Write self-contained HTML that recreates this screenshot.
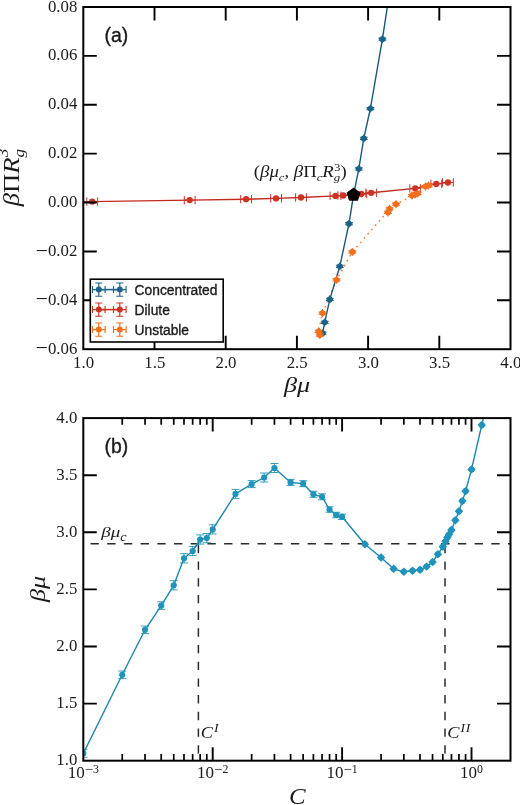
<!DOCTYPE html>
<html><head><meta charset="utf-8"><title>Figure</title>
<style>
html,body{margin:0;padding:0;background:#fff}
svg{display:block}
text{fill:#1a1a1a}
.ser{font-family:"Liberation Serif",serif}
.it{font-family:"Liberation Serif",serif;font-style:italic}
.up{font-style:normal}
.sans{font-family:"Liberation Sans",sans-serif;stroke:#1a1a1a;stroke-width:0.35px}
</style></head><body>
<svg width="520" height="805" viewBox="0 0 520 805">
<rect width="520" height="805" fill="#fff"/>
<defs><clipPath id="ca"><rect x="83.3" y="7" width="427.2" height="342.2"/></clipPath>
<clipPath id="cb"><rect x="83.3" y="418.1" width="427.2" height="342.6"/></clipPath></defs>
<g clip-path="url(#ca)">
<polyline points="84.3,201.8 92.2,201.6 189.7,200.1 246.1,199.2 276.1,198.4 301,197.5 335.5,195.9 343.3,195.5 361.3,194 371.2,192.8 415.2,188.4 436.3,183.9 447.9,182.5" fill="none" stroke="#c22a1c" stroke-width="1.4"/>
<path d="M86.8 201.6H97.6M86.8 197.4V205.8M97.6 197.4V205.8" stroke="#cb3323" stroke-width="1.0" fill="none"/>
<circle cx="92.2" cy="201.6" r="3.15" fill="#cb3323"/>
<path d="M184.3 200.1H195.1M184.3 195.9V204.3M195.1 195.9V204.3" stroke="#cb3323" stroke-width="1.0" fill="none"/>
<circle cx="189.7" cy="200.1" r="3.15" fill="#cb3323"/>
<path d="M240.7 199.2H251.5M240.7 195V203.4M251.5 195V203.4" stroke="#cb3323" stroke-width="1.0" fill="none"/>
<circle cx="246.1" cy="199.2" r="3.15" fill="#cb3323"/>
<path d="M270.7 198.4H281.5M270.7 194.2V202.6M281.5 194.2V202.6" stroke="#cb3323" stroke-width="1.0" fill="none"/>
<circle cx="276.1" cy="198.4" r="3.15" fill="#cb3323"/>
<path d="M295.6 197.5H306.4M295.6 193.3V201.7M306.4 193.3V201.7" stroke="#cb3323" stroke-width="1.0" fill="none"/>
<circle cx="301" cy="197.5" r="3.15" fill="#cb3323"/>
<path d="M330.1 195.9H340.9M330.1 191.7V200.1M340.9 191.7V200.1" stroke="#cb3323" stroke-width="1.0" fill="none"/>
<circle cx="335.5" cy="195.9" r="3.15" fill="#cb3323"/>
<path d="M337.9 195.5H348.7M337.9 191.3V199.7M348.7 191.3V199.7" stroke="#cb3323" stroke-width="1.0" fill="none"/>
<circle cx="343.3" cy="195.5" r="3.15" fill="#cb3323"/>
<path d="M355.9 194H366.7M355.9 189.8V198.2M366.7 189.8V198.2" stroke="#cb3323" stroke-width="1.0" fill="none"/>
<circle cx="361.3" cy="194" r="3.15" fill="#cb3323"/>
<path d="M365.8 192.8H376.6M365.8 188.6V197M376.6 188.6V197" stroke="#cb3323" stroke-width="1.0" fill="none"/>
<circle cx="371.2" cy="192.8" r="3.15" fill="#cb3323"/>
<path d="M409.8 188.4H420.6M409.8 184.2V192.6M420.6 184.2V192.6" stroke="#cb3323" stroke-width="1.0" fill="none"/>
<circle cx="415.2" cy="188.4" r="3.15" fill="#cb3323"/>
<path d="M430.9 183.9H441.7M430.9 179.7V188.1M441.7 179.7V188.1" stroke="#cb3323" stroke-width="1.0" fill="none"/>
<circle cx="436.3" cy="183.9" r="3.15" fill="#cb3323"/>
<path d="M442.5 182.5H453.3M442.5 178.3V186.7M453.3 178.3V186.7" stroke="#cb3323" stroke-width="1.0" fill="none"/>
<circle cx="447.9" cy="182.5" r="3.15" fill="#cb3323"/>
<polyline points="319.8,335 318.7,331.3 322.5,313.1 336.5,279.8 352.3,251.9 388,211 396,204.2 414.5,195 426.7,186 431,184.5" fill="none" stroke="#f2701d" stroke-width="1.6" stroke-dasharray="1.6 4.1" stroke-opacity="0.85"/>
<polyline points="388.4,0 382.4,39.2 370.4,108.5 363.8,138.4 358.8,168.8 353.7,193.8 349,223.7 339.8,266.3 329.8,299.4 324.7,322.3 322.6,333.2" fill="none" stroke="#175a7c" stroke-width="1.4"/>
<path d="M378.5 38.1H386.3M378.5 40.3H386.3M382.4 35.3V43.1" stroke="#1b6487" stroke-width="1.05" fill="none"/>
<path d="M378.85 39.2L382.4 35.65L385.95 39.2L382.4 42.75Z" fill="#1b6487"/>
<circle cx="382.4" cy="39.2" r="2.85" fill="#1b6487"/>
<path d="M366.5 107.4H374.3M366.5 109.6H374.3M370.4 104.6V112.4" stroke="#1b6487" stroke-width="1.05" fill="none"/>
<path d="M366.85 108.5L370.4 104.95L373.95 108.5L370.4 112.05Z" fill="#1b6487"/>
<circle cx="370.4" cy="108.5" r="2.85" fill="#1b6487"/>
<path d="M359.9 137.3H367.7M359.9 139.5H367.7M363.8 134.5V142.3" stroke="#1b6487" stroke-width="1.05" fill="none"/>
<path d="M360.25 138.4L363.8 134.85L367.35 138.4L363.8 141.95Z" fill="#1b6487"/>
<circle cx="363.8" cy="138.4" r="2.85" fill="#1b6487"/>
<path d="M354.9 167.7H362.7M354.9 169.9H362.7M358.8 164.9V172.7" stroke="#1b6487" stroke-width="1.05" fill="none"/>
<path d="M355.25 168.8L358.8 165.25L362.35 168.8L358.8 172.35Z" fill="#1b6487"/>
<circle cx="358.8" cy="168.8" r="2.85" fill="#1b6487"/>
<path d="M345.1 222.6H352.9M345.1 224.8H352.9M349 219.8V227.6" stroke="#1b6487" stroke-width="1.05" fill="none"/>
<path d="M345.45 223.7L349 220.15L352.55 223.7L349 227.25Z" fill="#1b6487"/>
<circle cx="349" cy="223.7" r="2.85" fill="#1b6487"/>
<path d="M335.9 265.2H343.7M335.9 267.4H343.7M339.8 262.4V270.2" stroke="#1b6487" stroke-width="1.05" fill="none"/>
<path d="M336.25 266.3L339.8 262.75L343.35 266.3L339.8 269.85Z" fill="#1b6487"/>
<circle cx="339.8" cy="266.3" r="2.85" fill="#1b6487"/>
<path d="M325.9 298.3H333.7M325.9 300.5H333.7M329.8 295.5V303.3" stroke="#1b6487" stroke-width="1.05" fill="none"/>
<path d="M326.25 299.4L329.8 295.85L333.35 299.4L329.8 302.95Z" fill="#1b6487"/>
<circle cx="329.8" cy="299.4" r="2.85" fill="#1b6487"/>
<path d="M320.8 321.2H328.6M320.8 323.4H328.6M324.7 318.4V326.2" stroke="#1b6487" stroke-width="1.05" fill="none"/>
<path d="M321.15 322.3L324.7 318.75L328.25 322.3L324.7 325.85Z" fill="#1b6487"/>
<circle cx="324.7" cy="322.3" r="2.85" fill="#1b6487"/>
<path d="M318.7 332.1H326.5M318.7 334.3H326.5M322.6 329.3V337.1" stroke="#1b6487" stroke-width="1.05" fill="none"/>
<path d="M319.05 333.2L322.6 329.65L326.15 333.2L322.6 336.75Z" fill="#1b6487"/>
<circle cx="322.6" cy="333.2" r="2.85" fill="#1b6487"/>
<path d="M315.8 333.9H323.8M315.8 336.1H323.8M319.8 331V339" stroke="#f2701d" stroke-width="1.05" fill="none"/>
<path d="M316.2 335L319.8 331.4L323.4 335L319.8 338.6Z" fill="#f2701d"/>
<circle cx="319.8" cy="335" r="2.9" fill="#f2701d"/>
<path d="M314.7 330.2H322.7M314.7 332.4H322.7M318.7 327.3V335.3" stroke="#f2701d" stroke-width="1.05" fill="none"/>
<path d="M315.1 331.3L318.7 327.7L322.3 331.3L318.7 334.9Z" fill="#f2701d"/>
<circle cx="318.7" cy="331.3" r="2.9" fill="#f2701d"/>
<path d="M318.5 312H326.5M318.5 314.2H326.5M322.5 309.1V317.1" stroke="#f2701d" stroke-width="1.05" fill="none"/>
<path d="M318.9 313.1L322.5 309.5L326.1 313.1L322.5 316.7Z" fill="#f2701d"/>
<circle cx="322.5" cy="313.1" r="2.9" fill="#f2701d"/>
<path d="M332.5 278.7H340.5M332.5 280.9H340.5M336.5 275.8V283.8" stroke="#f2701d" stroke-width="1.05" fill="none"/>
<path d="M332.9 279.8L336.5 276.2L340.1 279.8L336.5 283.4Z" fill="#f2701d"/>
<circle cx="336.5" cy="279.8" r="2.9" fill="#f2701d"/>
<path d="M348.3 250.8H356.3M348.3 253H356.3M352.3 247.9V255.9" stroke="#f2701d" stroke-width="1.05" fill="none"/>
<path d="M348.7 251.9L352.3 248.3L355.9 251.9L352.3 255.5Z" fill="#f2701d"/>
<circle cx="352.3" cy="251.9" r="2.9" fill="#f2701d"/>
<path d="M383.9 211.3H391.9M383.9 213.5H391.9M387.9 208.4V216.4" stroke="#f2701d" stroke-width="1.05" fill="none"/>
<path d="M384.3 212.4L387.9 208.8L391.5 212.4L387.9 216Z" fill="#f2701d"/>
<circle cx="387.9" cy="212.4" r="2.9" fill="#f2701d"/>
<path d="M385.6 207.7H393.6M385.6 209.9H393.6M389.6 204.8V212.8" stroke="#f2701d" stroke-width="1.05" fill="none"/>
<path d="M386 208.8L389.6 205.2L393.2 208.8L389.6 212.4Z" fill="#f2701d"/>
<circle cx="389.6" cy="208.8" r="2.9" fill="#f2701d"/>
<path d="M392 203.1H400M392 205.3H400M396 200.2V208.2" stroke="#f2701d" stroke-width="1.05" fill="none"/>
<path d="M392.4 204.2L396 200.6L399.6 204.2L396 207.8Z" fill="#f2701d"/>
<circle cx="396" cy="204.2" r="2.9" fill="#f2701d"/>
<path d="M408 194.4H416M408 196.6H416M412 191.5V199.5" stroke="#f2701d" stroke-width="1.05" fill="none"/>
<path d="M408.4 195.5L412 191.9L415.6 195.5L412 199.1Z" fill="#f2701d"/>
<circle cx="412" cy="195.5" r="2.9" fill="#f2701d"/>
<path d="M411 193.4H419M411 195.6H419M415 190.5V198.5" stroke="#f2701d" stroke-width="1.05" fill="none"/>
<path d="M411.4 194.5L415 190.9L418.6 194.5L415 198.1Z" fill="#f2701d"/>
<circle cx="415" cy="194.5" r="2.9" fill="#f2701d"/>
<path d="M413.5 192.4H421.5M413.5 194.6H421.5M417.5 189.5V197.5" stroke="#f2701d" stroke-width="1.05" fill="none"/>
<path d="M413.9 193.5L417.5 189.9L421.1 193.5L417.5 197.1Z" fill="#f2701d"/>
<circle cx="417.5" cy="193.5" r="2.9" fill="#f2701d"/>
<path d="M421.5 185.4H429.5M421.5 187.6H429.5M425.5 182.5V190.5" stroke="#f2701d" stroke-width="1.05" fill="none"/>
<path d="M421.9 186.5L425.5 182.9L429.1 186.5L425.5 190.1Z" fill="#f2701d"/>
<circle cx="425.5" cy="186.5" r="2.9" fill="#f2701d"/>
<path d="M424.5 184.4H432.5M424.5 186.6H432.5M428.5 181.5V189.5" stroke="#f2701d" stroke-width="1.05" fill="none"/>
<path d="M424.9 185.5L428.5 181.9L432.1 185.5L428.5 189.1Z" fill="#f2701d"/>
<circle cx="428.5" cy="185.5" r="2.9" fill="#f2701d"/>
<polygon points="353.6,187.6 360.54,192.64 357.89,200.81 349.31,200.81 346.66,192.64" fill="#000"/>
</g>
<rect x="83.3" y="7" width="427.2" height="342.2" fill="none" stroke="#000" stroke-width="2"/>
<path d="M154.5 7v13.5M154.5 349.2v-13.5M225.7 7v13.5M225.7 349.2v-13.5M296.9 7v13.5M296.9 349.2v-13.5M368.1 7v13.5M368.1 349.2v-13.5M439.3 7v13.5M439.3 349.2v-13.5M83.3 300.31h13.5M510.5 300.31h-13.5M83.3 251.43h13.5M510.5 251.43h-13.5M83.3 202.54h13.5M510.5 202.54h-13.5M83.3 153.66h13.5M510.5 153.66h-13.5M83.3 104.77h13.5M510.5 104.77h-13.5M83.3 55.89h13.5M510.5 55.89h-13.5" stroke="#000" stroke-width="1.9" fill="none"/>
<rect x="90.3" y="279.2" width="132.9" height="62.8" fill="#fff" stroke="#000" stroke-width="1.6"/>
<path d="M98.8 289.6H119.8" stroke="#1b6487" stroke-width="1.6"/>
<path d="M92.5 289.6H105.1M92.5 286.1V293.1M105.1 286.1V293.1M98.8 283V296.2M95.3 283H102.3M95.3 296.2H102.3" stroke="#1b6487" stroke-width="1.15" fill="none"/>
<circle cx="98.8" cy="289.6" r="3" fill="#1b6487"/>
<path d="M113.5 289.6H126.1M113.5 286.1V293.1M126.1 286.1V293.1M119.8 283V296.2M116.3 283H123.3M116.3 296.2H123.3" stroke="#1b6487" stroke-width="1.15" fill="none"/>
<circle cx="119.8" cy="289.6" r="3" fill="#1b6487"/>
<text x="134.6" y="294.6" class="sans" font-size="13.8">Concentrated</text>
<path d="M98.8 309.6H119.8" stroke="#cb3323" stroke-width="1.6"/>
<path d="M92.5 309.6H105.1M92.5 306.1V313.1M105.1 306.1V313.1M98.8 303V316.2M95.3 303H102.3M95.3 316.2H102.3" stroke="#cb3323" stroke-width="1.15" fill="none"/>
<circle cx="98.8" cy="309.6" r="3" fill="#cb3323"/>
<path d="M113.5 309.6H126.1M113.5 306.1V313.1M126.1 306.1V313.1M119.8 303V316.2M116.3 303H123.3M116.3 316.2H123.3" stroke="#cb3323" stroke-width="1.15" fill="none"/>
<circle cx="119.8" cy="309.6" r="3" fill="#cb3323"/>
<text x="134.6" y="314.6" class="sans" font-size="13.8">Dilute</text>
<path d="M92.5 329.6H105.1M92.5 326.1V333.1M105.1 326.1V333.1M98.8 323V336.2M95.3 323H102.3M95.3 336.2H102.3" stroke="#f2701d" stroke-width="1.15" fill="none"/>
<circle cx="98.8" cy="329.6" r="3" fill="#f2701d"/>
<path d="M113.5 329.6H126.1M113.5 326.1V333.1M126.1 326.1V333.1M119.8 323V336.2M116.3 323H123.3M116.3 336.2H123.3" stroke="#f2701d" stroke-width="1.15" fill="none"/>
<circle cx="119.8" cy="329.6" r="3" fill="#f2701d"/>
<text x="134.6" y="334.6" class="sans" font-size="13.8">Unstable</text>
<text transform="translate(77.3 11.5) scale(0.96 1)" class="ser" font-size="17.5" text-anchor="end">0.08</text>
<text transform="translate(77.3 60.39) scale(0.96 1)" class="ser" font-size="17.5" text-anchor="end">0.06</text>
<text transform="translate(77.3 109.27) scale(0.96 1)" class="ser" font-size="17.5" text-anchor="end">0.04</text>
<text transform="translate(77.3 158.16) scale(0.96 1)" class="ser" font-size="17.5" text-anchor="end">0.02</text>
<text transform="translate(77.3 207.04) scale(0.96 1)" class="ser" font-size="17.5" text-anchor="end">0.00</text>
<text transform="translate(77.3 255.93) scale(0.96 1)" class="ser" font-size="17.5" text-anchor="end"><tspan font-size="22.5" dy="1.6">−</tspan><tspan dy="-1.6">0</tspan>.02</text>
<text transform="translate(77.3 304.81) scale(0.96 1)" class="ser" font-size="17.5" text-anchor="end"><tspan font-size="22.5" dy="1.6">−</tspan><tspan dy="-1.6">0</tspan>.04</text>
<text transform="translate(77.3 353.7) scale(0.96 1)" class="ser" font-size="17.5" text-anchor="end"><tspan font-size="22.5" dy="1.6">−</tspan><tspan dy="-1.6">0</tspan>.06</text>
<text transform="translate(83.6 367.6) scale(0.96 1)" class="ser" font-size="17.5" text-anchor="middle">1.0</text>
<text transform="translate(154.8 367.6) scale(0.96 1)" class="ser" font-size="17.5" text-anchor="middle">1.5</text>
<text transform="translate(226 367.6) scale(0.96 1)" class="ser" font-size="17.5" text-anchor="middle">2.0</text>
<text transform="translate(297.2 367.6) scale(0.96 1)" class="ser" font-size="17.5" text-anchor="middle">2.5</text>
<text transform="translate(368.4 367.6) scale(0.96 1)" class="ser" font-size="17.5" text-anchor="middle">3.0</text>
<text transform="translate(439.6 367.6) scale(0.96 1)" class="ser" font-size="17.5" text-anchor="middle">3.5</text>
<text transform="translate(510.8 367.6) scale(0.96 1)" class="ser" font-size="17.5" text-anchor="middle">4.0</text>
<text transform="translate(297 392.4) scale(1.25 1)" class="it" font-size="21" text-anchor="middle">βμ</text>
<text transform="translate(18.8 177.5) rotate(-90) scale(1.18 1)" class="it" font-size="22.5" text-anchor="middle">β<tspan class="up">Π</tspan>R<tspan font-size="14.5" dy="5.5">g</tspan><tspan font-size="14.5" dy="-16.5" dx="-7">3</tspan></text>
<text x="116.4" y="41.6" class="sans" font-size="19.4" text-anchor="middle">(a)</text>
<text transform="translate(253.8 177.3) scale(1.19 1)" class="it" font-size="15.8"><tspan class="up">(</tspan>βμ<tspan font-size="10.5" dy="3.2">c</tspan><tspan dy="-3.2" class="up">, </tspan>β<tspan class="up">Π</tspan><tspan font-size="10.5" dy="3.2">c</tspan><tspan dy="-3.2">R</tspan><tspan font-size="10.8" dy="3.8">g</tspan><tspan font-size="10.8" dy="-10.6" dx="-5.2" class="up">3</tspan><tspan dy="6.8" class="up">)</tspan></text>
<g clip-path="url(#cb)">
<path d="M90.5 543.72H510.5" stroke="#2a2a2a" stroke-width="1.5" stroke-dasharray="8.35 8.35" fill="none"/>
<path d="M198.4 544.8V760.7" stroke="#2a2a2a" stroke-width="1.5" stroke-dasharray="8.35 8.35" fill="none"/>
<path d="M445 544.8V760.7" stroke="#2a2a2a" stroke-width="1.5" stroke-dasharray="8.35 8.35" fill="none"/>
<polyline points="83.3,753.5 122.25,674.8 145.04,629.8 161.21,605.6 173.75,585.3 183.99,558.3 192.66,551 200.16,539.5 206.78,538.1 212.7,529.4 235.49,493.9 251.65,484.1 264.19,477.5 274.44,468 290.61,482.4 303.15,483.7 313.39,494.3 322.06,496.8 329.56,509.5 336.18,515 342.1,516.8 364.89,544.3 381.05,557.5 393.59,568.8 403.84,571.8 412.5,570.8 420.01,569.8 426.63,566.6 432.55,562 437.9,554.3 442.79,546.8 445.53,541.2 447.29,537.5 448.99,534.5 451.46,530 455.33,520.2 458.96,511.2 462.37,501.1 465.58,491.1 471.5,469.4 481.75,425 484.2,414" fill="none" stroke="#1a86ab" stroke-width="1.4" stroke-linejoin="round"/>
<path d="M83.3 749.7V757.3M79.3 749.7H87.3M79.3 757.3H87.3" stroke="#1f93ba" stroke-width="0.9" fill="none"/>
<circle cx="83.3" cy="753.5" r="3.1" fill="#1f93ba"/>
<path d="M122.25 671V678.6M118.25 671H126.25M118.25 678.6H126.25" stroke="#1f93ba" stroke-width="0.9" fill="none"/>
<circle cx="122.25" cy="674.8" r="3.1" fill="#1f93ba"/>
<path d="M145.04 626V633.6M141.04 626H149.04M141.04 633.6H149.04" stroke="#1f93ba" stroke-width="0.9" fill="none"/>
<circle cx="145.04" cy="629.8" r="3.1" fill="#1f93ba"/>
<path d="M161.21 601.8V609.4M157.21 601.8H165.21M157.21 609.4H165.21" stroke="#1f93ba" stroke-width="0.9" fill="none"/>
<circle cx="161.21" cy="605.6" r="3.1" fill="#1f93ba"/>
<path d="M173.75 580.7V589.9M169.75 580.7H177.75M169.75 589.9H177.75" stroke="#1f93ba" stroke-width="0.9" fill="none"/>
<circle cx="173.75" cy="585.3" r="3.1" fill="#1f93ba"/>
<path d="M183.99 553.7V562.9M179.99 553.7H187.99M179.99 562.9H187.99" stroke="#1f93ba" stroke-width="0.9" fill="none"/>
<circle cx="183.99" cy="558.3" r="3.1" fill="#1f93ba"/>
<path d="M192.66 546.4V555.6M188.66 546.4H196.66M188.66 555.6H196.66" stroke="#1f93ba" stroke-width="0.9" fill="none"/>
<circle cx="192.66" cy="551" r="3.1" fill="#1f93ba"/>
<path d="M200.16 534.9V544.1M196.16 534.9H204.16M196.16 544.1H204.16" stroke="#1f93ba" stroke-width="0.9" fill="none"/>
<circle cx="200.16" cy="539.5" r="3.1" fill="#1f93ba"/>
<path d="M206.78 533.5V542.7M202.78 533.5H210.78M202.78 542.7H210.78" stroke="#1f93ba" stroke-width="0.9" fill="none"/>
<circle cx="206.78" cy="538.1" r="3.1" fill="#1f93ba"/>
<path d="M212.7 524.8V534M208.7 524.8H216.7M208.7 534H216.7" stroke="#1f93ba" stroke-width="0.9" fill="none"/>
<circle cx="212.7" cy="529.4" r="3.1" fill="#1f93ba"/>
<path d="M235.49 489.4V498.4M231.49 489.4H239.49M231.49 498.4H239.49" stroke="#1f93ba" stroke-width="0.9" fill="none"/>
<circle cx="235.49" cy="493.9" r="3.1" fill="#1f93ba"/>
<path d="M251.65 480.6V487.6M247.65 480.6H255.65M247.65 487.6H255.65" stroke="#1f93ba" stroke-width="0.9" fill="none"/>
<circle cx="251.65" cy="484.1" r="3.1" fill="#1f93ba"/>
<path d="M264.19 473V482M260.19 473H268.19M260.19 482H268.19" stroke="#1f93ba" stroke-width="0.9" fill="none"/>
<circle cx="264.19" cy="477.5" r="3.1" fill="#1f93ba"/>
<path d="M274.44 463.5V472.5M270.44 463.5H278.44M270.44 472.5H278.44" stroke="#1f93ba" stroke-width="0.9" fill="none"/>
<circle cx="274.44" cy="468" r="3.1" fill="#1f93ba"/>
<path d="M290.61 479.4V485.4M286.61 479.4H294.61M286.61 485.4H294.61" stroke="#1f93ba" stroke-width="0.9" fill="none"/>
<circle cx="290.61" cy="482.4" r="3.1" fill="#1f93ba"/>
<path d="M303.15 480.7V486.7M299.15 480.7H307.15M299.15 486.7H307.15" stroke="#1f93ba" stroke-width="0.9" fill="none"/>
<circle cx="303.15" cy="483.7" r="3.1" fill="#1f93ba"/>
<path d="M313.39 491.3V497.3M309.39 491.3H317.39M309.39 497.3H317.39" stroke="#1f93ba" stroke-width="0.9" fill="none"/>
<circle cx="313.39" cy="494.3" r="3.1" fill="#1f93ba"/>
<path d="M322.06 493.8V499.8M318.06 493.8H326.06M318.06 499.8H326.06" stroke="#1f93ba" stroke-width="0.9" fill="none"/>
<circle cx="322.06" cy="496.8" r="3.1" fill="#1f93ba"/>
<path d="M329.56 506.8V512.2M325.56 506.8H333.56M325.56 512.2H333.56" stroke="#1f93ba" stroke-width="0.9" fill="none"/>
<circle cx="329.56" cy="509.5" r="3.1" fill="#1f93ba"/>
<path d="M336.18 512.3V517.7M332.18 512.3H340.18M332.18 517.7H340.18" stroke="#1f93ba" stroke-width="0.9" fill="none"/>
<circle cx="336.18" cy="515" r="3.1" fill="#1f93ba"/>
<path d="M342.1 514.1V519.5M338.1 514.1H346.1M338.1 519.5H346.1" stroke="#1f93ba" stroke-width="0.9" fill="none"/>
<circle cx="342.1" cy="516.8" r="3.1" fill="#1f93ba"/>
<path d="M360.69 544.3L364.89 540.1L369.09 544.3L364.89 548.5Z" fill="#1f93ba"/>
<circle cx="364.89" cy="544.3" r="3.0" fill="#1f93ba"/>
<path d="M376.85 557.5L381.05 553.3L385.25 557.5L381.05 561.7Z" fill="#1f93ba"/>
<circle cx="381.05" cy="557.5" r="3.0" fill="#1f93ba"/>
<path d="M389.39 568.8L393.59 564.6L397.79 568.8L393.59 573Z" fill="#1f93ba"/>
<circle cx="393.59" cy="568.8" r="3.0" fill="#1f93ba"/>
<path d="M399.64 571.8L403.84 567.6L408.04 571.8L403.84 576Z" fill="#1f93ba"/>
<circle cx="403.84" cy="571.8" r="3.0" fill="#1f93ba"/>
<path d="M408.3 570.8L412.5 566.6L416.7 570.8L412.5 575Z" fill="#1f93ba"/>
<circle cx="412.5" cy="570.8" r="3.0" fill="#1f93ba"/>
<path d="M415.81 569.8L420.01 565.6L424.21 569.8L420.01 574Z" fill="#1f93ba"/>
<circle cx="420.01" cy="569.8" r="3.0" fill="#1f93ba"/>
<path d="M422.43 566.6L426.63 562.4L430.83 566.6L426.63 570.8Z" fill="#1f93ba"/>
<circle cx="426.63" cy="566.6" r="3.0" fill="#1f93ba"/>
<path d="M428.35 562L432.55 557.8L436.75 562L432.55 566.2Z" fill="#1f93ba"/>
<circle cx="432.55" cy="562" r="3.0" fill="#1f93ba"/>
<path d="M433.7 554.3L437.9 550.1L442.1 554.3L437.9 558.5Z" fill="#1f93ba"/>
<circle cx="437.9" cy="554.3" r="3.0" fill="#1f93ba"/>
<path d="M438.59 546.8L442.79 542.6L446.99 546.8L442.79 551Z" fill="#1f93ba"/>
<circle cx="442.79" cy="546.8" r="3.0" fill="#1f93ba"/>
<path d="M441.33 541.2L445.53 537L449.73 541.2L445.53 545.4Z" fill="#1f93ba"/>
<circle cx="445.53" cy="541.2" r="3.0" fill="#1f93ba"/>
<path d="M443.09 537.5L447.29 533.3L451.49 537.5L447.29 541.7Z" fill="#1f93ba"/>
<circle cx="447.29" cy="537.5" r="3.0" fill="#1f93ba"/>
<path d="M444.79 534.5L448.99 530.3L453.19 534.5L448.99 538.7Z" fill="#1f93ba"/>
<circle cx="448.99" cy="534.5" r="3.0" fill="#1f93ba"/>
<path d="M447.26 530L451.46 525.8L455.66 530L451.46 534.2Z" fill="#1f93ba"/>
<circle cx="451.46" cy="530" r="3.0" fill="#1f93ba"/>
<path d="M451.13 520.2L455.33 516L459.53 520.2L455.33 524.4Z" fill="#1f93ba"/>
<circle cx="455.33" cy="520.2" r="3.0" fill="#1f93ba"/>
<path d="M454.76 511.2L458.96 507L463.16 511.2L458.96 515.4Z" fill="#1f93ba"/>
<circle cx="458.96" cy="511.2" r="3.0" fill="#1f93ba"/>
<path d="M458.17 501.1L462.37 496.9L466.57 501.1L462.37 505.3Z" fill="#1f93ba"/>
<circle cx="462.37" cy="501.1" r="3.0" fill="#1f93ba"/>
<path d="M461.38 491.1L465.58 486.9L469.78 491.1L465.58 495.3Z" fill="#1f93ba"/>
<circle cx="465.58" cy="491.1" r="3.0" fill="#1f93ba"/>
<path d="M467.3 469.4L471.5 465.2L475.7 469.4L471.5 473.6Z" fill="#1f93ba"/>
<circle cx="471.5" cy="469.4" r="3.0" fill="#1f93ba"/>
<path d="M477.55 425L481.75 420.8L485.95 425L481.75 429.2Z" fill="#1f93ba"/>
<circle cx="481.75" cy="425" r="3.0" fill="#1f93ba"/>
</g>
<rect x="83.3" y="418.1" width="427.2" height="342.6" fill="none" stroke="#000" stroke-width="2"/>
<path d="M212.7 418.1v13.5M212.7 760.7v-13.5M342.1 418.1v13.5M342.1 760.7v-13.5M471.5 418.1v13.5M471.5 760.7v-13.5M83.3 703.6h13.5M510.5 703.6h-13.5M83.3 646.5h13.5M510.5 646.5h-13.5M83.3 589.4h13.5M510.5 589.4h-13.5M83.3 532.3h13.5M510.5 532.3h-13.5M83.3 475.2h13.5M510.5 475.2h-13.5" stroke="#000" stroke-width="1.9" fill="none"/>
<path d="M122.25 418.1v6.6M122.25 760.7v-6.6M145.04 418.1v6.6M145.04 760.7v-6.6M161.21 418.1v6.6M161.21 760.7v-6.6M173.75 418.1v6.6M173.75 760.7v-6.6M183.99 418.1v6.6M183.99 760.7v-6.6M192.66 418.1v6.6M192.66 760.7v-6.6M200.16 418.1v6.6M200.16 760.7v-6.6M206.78 418.1v6.6M206.78 760.7v-6.6M251.65 418.1v6.6M251.65 760.7v-6.6M274.44 418.1v6.6M274.44 760.7v-6.6M290.61 418.1v6.6M290.61 760.7v-6.6M303.15 418.1v6.6M303.15 760.7v-6.6M313.39 418.1v6.6M313.39 760.7v-6.6M322.06 418.1v6.6M322.06 760.7v-6.6M329.56 418.1v6.6M329.56 760.7v-6.6M336.18 418.1v6.6M336.18 760.7v-6.6M381.05 418.1v6.6M381.05 760.7v-6.6M403.84 418.1v6.6M403.84 760.7v-6.6M420.01 418.1v6.6M420.01 760.7v-6.6M432.55 418.1v6.6M432.55 760.7v-6.6M442.79 418.1v6.6M442.79 760.7v-6.6M451.46 418.1v6.6M451.46 760.7v-6.6M458.96 418.1v6.6M458.96 760.7v-6.6M465.58 418.1v6.6M465.58 760.7v-6.6" stroke="#000" stroke-width="1.7" fill="none"/>
<text transform="translate(77.3 765.2) scale(0.96 1)" class="ser" font-size="17.5" text-anchor="end">1.0</text>
<text transform="translate(77.3 708.1) scale(0.96 1)" class="ser" font-size="17.5" text-anchor="end">1.5</text>
<text transform="translate(77.3 651) scale(0.96 1)" class="ser" font-size="17.5" text-anchor="end">2.0</text>
<text transform="translate(77.3 593.9) scale(0.96 1)" class="ser" font-size="17.5" text-anchor="end">2.5</text>
<text transform="translate(77.3 536.8) scale(0.96 1)" class="ser" font-size="17.5" text-anchor="end">3.0</text>
<text transform="translate(77.3 479.7) scale(0.96 1)" class="ser" font-size="17.5" text-anchor="end">3.5</text>
<text transform="translate(77.3 422.6) scale(0.96 1)" class="ser" font-size="17.5" text-anchor="end">4.0</text>
<text x="67.7" y="778.1" class="ser" font-size="17">10<tspan font-size="14.8" dy="-4.4">−</tspan><tspan font-size="11.8" dy="-1.0">3</tspan></text>
<text x="197.1" y="778.1" class="ser" font-size="17">10<tspan font-size="14.8" dy="-4.4">−</tspan><tspan font-size="11.8" dy="-1.0">2</tspan></text>
<text x="326.5" y="778.1" class="ser" font-size="17">10<tspan font-size="14.8" dy="-4.4">−</tspan><tspan font-size="11.8" dy="-1.0">1</tspan></text>
<text x="460.05" y="778.1" class="ser" font-size="17">10<tspan font-size="11.8" dy="-5.4">0</tspan></text>
<text transform="translate(297.4 803.7) scale(1.06 1)" class="it" font-size="23.5" text-anchor="middle">C</text>
<text transform="translate(45 589) rotate(-90) scale(1.25 1)" class="it" font-size="21" text-anchor="middle">βμ</text>
<text x="116.4" y="452.8" class="sans" font-size="19.4" text-anchor="middle">(b)</text>
<text transform="translate(101.3 537.1) scale(1.24 1)" class="it" font-size="15.3">βμ<tspan font-size="11.5" dy="3.5">c</tspan></text>
<text transform="translate(200.8 737.8) scale(1.13 1)" class="it" font-size="16.2">C<tspan font-size="12.2" dy="-6.2" dx="0.8">I</tspan></text>
<text transform="translate(447.3 737.8) scale(1.13 1)" class="it" font-size="16.2">C<tspan font-size="12.2" dy="-6.2" dx="0.8" letter-spacing="0.6">II</tspan></text>
</svg>
</body></html>
